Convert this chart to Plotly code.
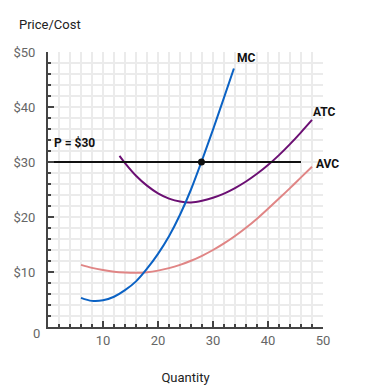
import plotly.graph_objects as go

# Marginal cost
mc_q = [6, 8, 10, 12, 14, 16, 18, 20, 22, 24, 26, 28, 30, 32, 33.8]
mc_v = [5.3, 4.75, 4.85, 5.5, 6.7, 8.3, 10.6, 13.3, 16.5, 20.4, 25.0, 30.3, 35.9, 41.7, 47.0]

# Average total cost
atc_q = [13, 14, 16, 18, 20, 22, 24, 26, 28, 30, 32, 34, 36, 38, 40, 42, 44, 46, 48]
atc_v = [31.1, 29.8, 27.5, 25.7, 24.3, 23.35, 22.8, 22.65, 22.95, 23.5, 24.25, 25.25, 26.45, 27.85, 29.45, 31.25, 33.25, 35.4, 37.65]

# Average variable cost
avc_q = [6, 8, 10, 12, 14, 16, 18, 20, 22, 24, 26, 28, 30, 32, 34, 36, 38, 40, 42, 44, 46, 48]
avc_v = [11.3, 10.75, 10.35, 10.05, 9.9, 9.85, 9.95, 10.25, 10.7, 11.3, 12.05, 12.95, 14.0, 15.2, 16.55, 18.05, 19.7, 21.5, 23.35, 25.25, 27.2, 29.15]

# Price line
price = 30
price_q = [0, 46]
eq_q = 27.9

x_ticks = [10, 20, 30, 40, 50]
x_ticktext = ["10", "20", "30", "40", "50"]
y_ticks = [10, 20, 30, 40, 50]
y_ticktext = ["$10", "$20", "$30", "$40", "$50"]

FONT = "Roboto, Arial, sans-serif"

fig = go.Figure()
fig.add_trace(go.Scatter(x=avc_q, y=avc_v, mode="lines", line=dict(color="#e08585", width=2, shape="spline"), hoverinfo="skip"))
fig.add_trace(go.Scatter(x=atc_q, y=atc_v, mode="lines", line=dict(color="#6b0f73", width=2, shape="spline"), hoverinfo="skip"))
fig.add_trace(go.Scatter(x=price_q, y=[price, price], mode="lines", line=dict(color="#111111", width=2), hoverinfo="skip"))
fig.add_trace(go.Scatter(x=mc_q, y=mc_v, mode="lines", line=dict(color="#0b62c4", width=2, shape="spline"), hoverinfo="skip"))
fig.add_trace(go.Scatter(x=[eq_q], y=[price], mode="markers", marker=dict(color="#111111", size=7), hoverinfo="skip"))

ann = dict(showarrow=False, font=dict(family=FONT, size=12, color="#111111"), xanchor="left", yanchor="middle")
fig.add_annotation(x=34.0, y=48.9, text="<b>MC</b>", **ann)
fig.add_annotation(x=47.8, y=39.1, text="<b>ATC</b>", **ann)
fig.add_annotation(x=48.4, y=29.6, text="<b>AVC</b>", **ann)
fig.add_annotation(x=0.7, y=33.4, text="<b>P = $30</b>", **ann)
fig.add_annotation(x=0, y=0, text="0", showarrow=False, xanchor="right", yanchor="middle",
                   xshift=-6, yshift=-6, font=dict(family=FONT, size=13, color="#666666"))
fig.add_annotation(xref="paper", yref="paper", x=-0.113, y=1.1, xanchor="left", yanchor="middle",
                   text="Price/Cost", showarrow=False, font=dict(family=FONT, size=13, color="#222222"))

axis_common = dict(
    range=[0, 50], showgrid=True, gridcolor="#ebebeb", gridwidth=1.5,
    showline=True, linecolor="#444444", linewidth=2,
    ticks="inside", ticklen=6, tickcolor="#444444", tickwidth=1.5,
    tickfont=dict(family=FONT, size=13, color="#666666"),
    minor=dict(dtick=2, showgrid=True, gridcolor="#ebebeb", gridwidth=1.5, ticks="inside", ticklen=3, tickcolor="#444444"),
    zeroline=False, fixedrange=True, automargin=False,
)
fig.update_xaxes(tickvals=x_ticks, ticktext=x_ticktext,
                 title=dict(text="Quantity", font=dict(family=FONT, size=13, color="#222222"), standoff=26),
                 **axis_common)
fig.update_yaxes(tickvals=y_ticks, ticktext=y_ticktext, ticklabelstandoff=8, **axis_common)

# page body has an 8px default margin, so the figure is sized to compensate
fig.update_layout(
    width=364, height=384,
    margin=dict(l=40, r=49, t=44, b=65),
    paper_bgcolor="white", plot_bgcolor="white",
    showlegend=False,
    font=dict(family=FONT),
)
fig.write_html("out.html")
